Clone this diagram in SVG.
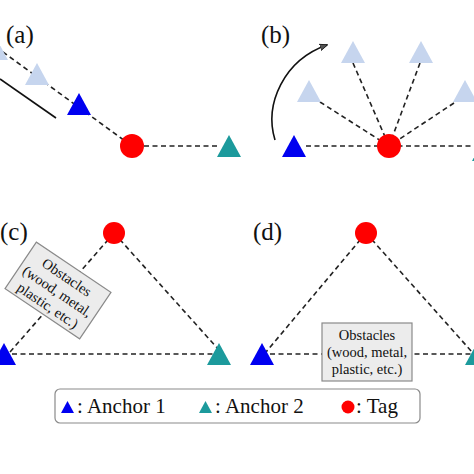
<svg xmlns="http://www.w3.org/2000/svg" width="474" height="474" viewBox="0 0 474 474">
<style>
.lbl{font-family:"Liberation Serif","Times New Roman",serif;font-size:25px;fill:#111}
.obs{font-family:"Liberation Serif","Times New Roman",serif;font-size:14.5px;fill:#111;text-anchor:middle}
.leg{font-family:"Liberation Serif","Times New Roman",serif;font-size:21px;fill:#111}
.dash{stroke:#222;stroke-width:1.6;stroke-dasharray:5,3.5;fill:none}
.a1{fill:#0000f0}
.a2{fill:#1c9a9c}
.lt{fill:#c6d5ee}
.tag{fill:#ff0000}
.box{fill:#ececec;stroke:#8a8a8a;stroke-width:1.2}
</style>
<defs>
<path id="tri" d="M0,-11 L12,11 L-12,11 Z"/>
<marker id="ah" viewBox="0 0 10 10" refX="9" refY="5" markerWidth="8" markerHeight="8" orient="auto" markerUnits="userSpaceOnUse">
<path d="M0,1 L10,5 L0,9 Z" fill="#555" stroke="#111" stroke-width="1"/>
</marker>
</defs>
<rect width="474" height="474" fill="#fff"/>

<g id="connectors">
<!-- (a) -->
<line class="dash" x1="-4" y1="47" x2="132" y2="146"/>
<line class="dash" x1="144" y1="146" x2="218" y2="146"/>
<line x1="0" y1="79" x2="56" y2="118" stroke="#111" stroke-width="1.6"/>
<!-- (b) -->
<line class="dash" x1="306" y1="146" x2="389" y2="146"/>
<line class="dash" x1="389" y1="146" x2="474" y2="146"/>
<line class="dash" x1="320" y1="102" x2="389" y2="146"/>
<line class="dash" x1="353" y1="63" x2="389" y2="146"/>
<line class="dash" x1="420" y1="63" x2="389" y2="146"/>
<line class="dash" x1="454" y1="103" x2="389" y2="146"/>
<path d="M275,140 C264,104 284,60 327,45" fill="none" stroke="#111" stroke-width="1.6" marker-end="url(#ah)"/>
<!-- (c) -->
<line class="dash" x1="114" y1="233" x2="10" y2="352"/>
<line class="dash" x1="114" y1="233" x2="219" y2="350"/>
<line class="dash" x1="12" y1="354" x2="214" y2="354"/>
<!-- (d) -->
<line class="dash" x1="366" y1="233" x2="266" y2="352"/>
<line class="dash" x1="366" y1="233" x2="472" y2="352"/>
<line class="dash" x1="270" y1="354" x2="474" y2="354"/>
</g>

<g id="panel-a">
<text class="lbl" x="6" y="43">(a)</text>
<use href="#tri" class="lt" x="-4" y="49"/>
<use href="#tri" class="lt" x="37" y="74"/>
<use href="#tri" class="a1" x="79" y="104"/>
<circle class="tag" cx="132" cy="146" r="12"/>
<use href="#tri" class="a2" x="229" y="146"/>
</g>

<g id="panel-b">
<text class="lbl" x="261" y="43">(b)</text>
<use href="#tri" class="lt" x="309" y="91"/>
<use href="#tri" class="lt" x="353" y="52"/>
<use href="#tri" class="lt" x="421" y="52"/>
<use href="#tri" class="lt" x="465" y="91"/>
<use href="#tri" class="a1" x="294" y="146"/>
<use href="#tri" class="a2" x="484" y="150"/>
<circle class="tag" cx="389" cy="146" r="12"/>
</g>

<g id="panel-c">
<text class="lbl" x="0" y="240">(c)</text>
<circle class="tag" cx="114" cy="233" r="11"/>
<use href="#tri" class="a1" x="4" y="354"/>
<use href="#tri" class="a2" x="219" y="354"/>
<g transform="translate(58,290.5) rotate(34)">
<rect class="box" x="-45" y="-28" width="90" height="56"/>
<text class="obs" x="0" y="-11">Obstacles</text>
<text class="obs" x="0" y="6">(wood, metal,</text>
<text class="obs" x="0" y="23">plastic, etc.)</text>
</g>
</g>

<g id="panel-d">
<text class="lbl" x="253" y="240">(d)</text>
<circle class="tag" cx="366" cy="233" r="11"/>
<use href="#tri" class="a1" x="262" y="354"/>
<use href="#tri" class="a2" x="477" y="354"/>
<rect class="box" x="322" y="323" width="90" height="58"/>
<text class="obs" x="367" y="340">Obstacles</text>
<text class="obs" x="367" y="357">(wood, metal,</text>
<text class="obs" x="367" y="374">plastic, etc.)</text>
</g>

<g id="legend">
<rect x="55" y="389" width="365" height="34" rx="5" fill="#fff" stroke="#8a8a8a" stroke-width="1.2"/>
<path class="a1" d="M67.5,401 L74,413 L61,413 Z"/>
<text class="leg" x="77" y="413">: Anchor 1</text>
<path class="a2" d="M205.5,401 L212,413 L199,413 Z"/>
<text class="leg" x="215" y="413">: Anchor 2</text>
<circle class="tag" cx="348" cy="407" r="6.5"/>
<text class="leg" x="356" y="413">: Tag</text>
</g>
</svg>
